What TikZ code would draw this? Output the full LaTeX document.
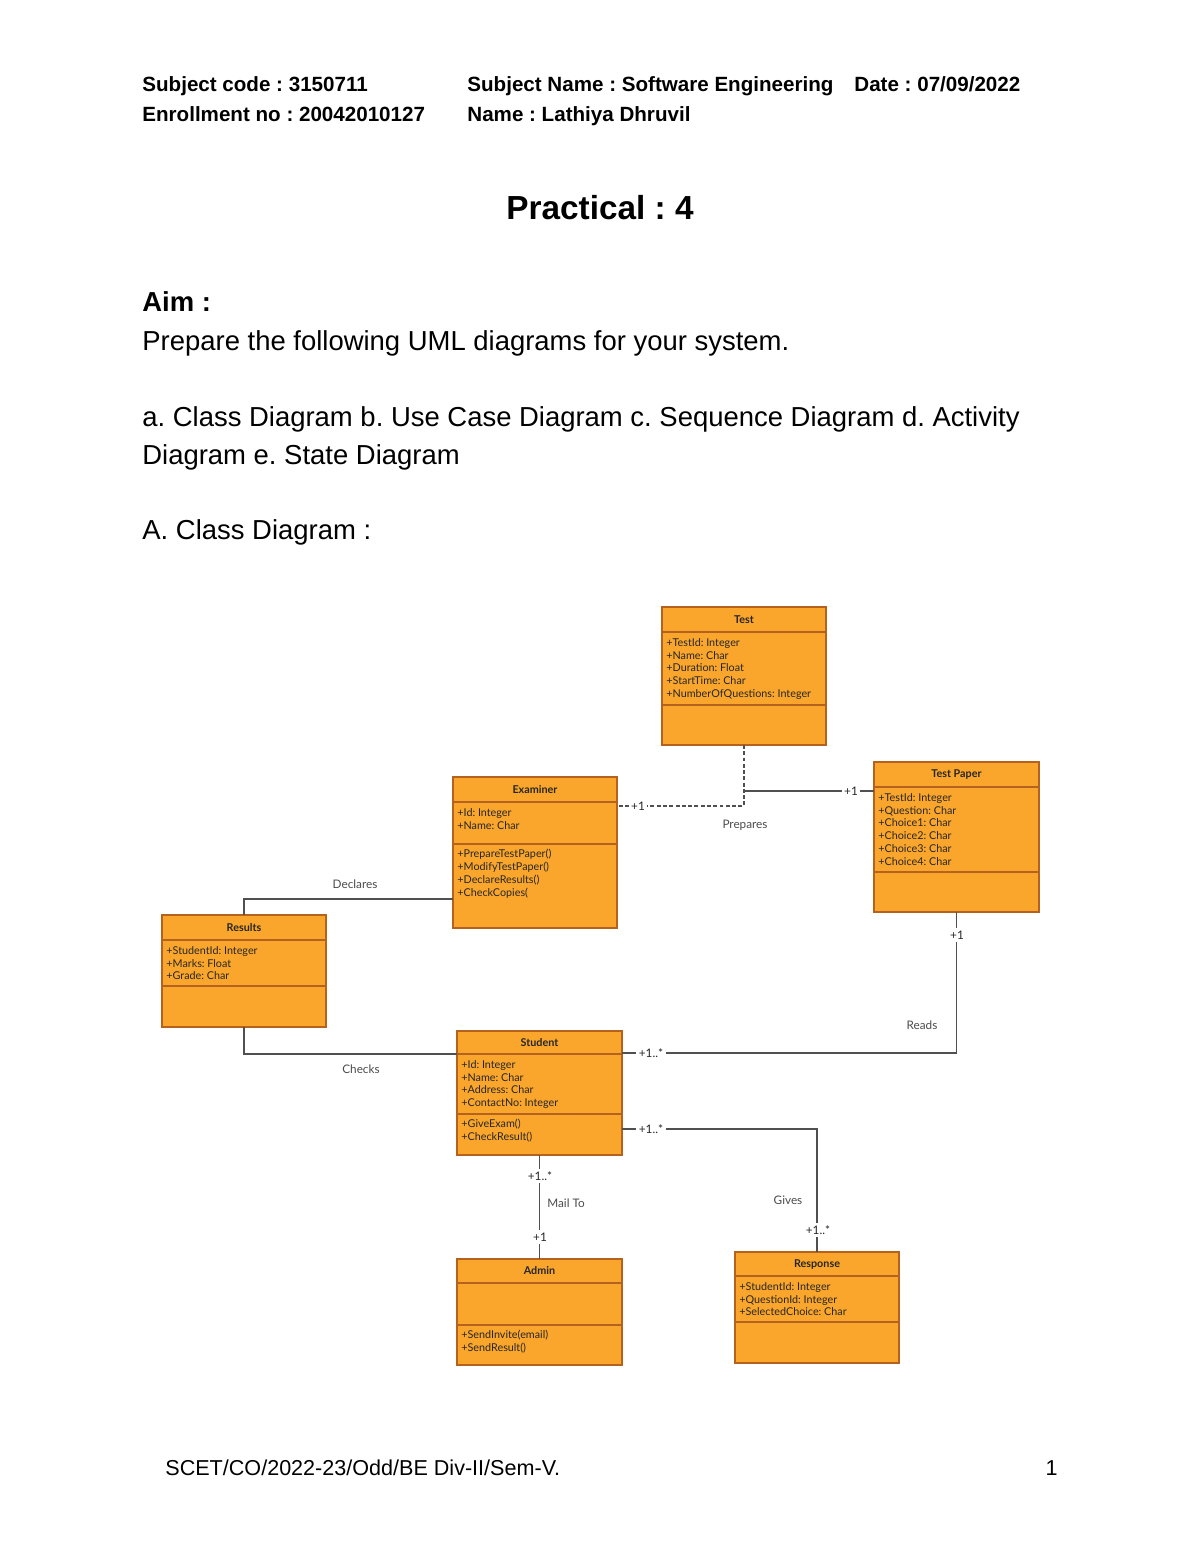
\documentclass[tikz,border=0pt]{standalone}
\usepackage{fontspec}
\setmainfont{Liberation Sans}
\newfontfamily\diagfont{Lato}
\usepackage{xcolor}
\usepackage{tikz}
\usetikzlibrary{arrows.meta,positioning,calc,fit}
\frenchspacing

\definecolor{boxfill}{RGB}{250,166,44}
\definecolor{boxedge}{RGB}{180,98,30}
\definecolor{linegray}{RGB}{80,80,80}

\tikzset{
  umlbox/.style={draw=boxedge,fill=boxfill,line width=0.8pt,inner sep=0pt,outer sep=0pt},
  umlsep/.style={draw=boxedge,line width=0.8pt},
  umltitle/.style={font=\diagfont\fontsize{5.5}{6.5}\selectfont\bfseries,text=black!85,inner sep=0pt},
  umltext/.style={font=\diagfont\fontsize{5.5}{6.5}\selectfont,align=left,anchor=north west,inner sep=0pt,text=black!85},
  assoc/.style={draw=linegray,line width=0.7pt},
  mult/.style={font=\diagfont\fontsize{6}{7}\selectfont,fill=white,inner sep=1.3pt,text=black!85},
  rolename/.style={font=\diagfont\fontsize{6}{7}\selectfont,text=black!70},
  hdr/.style={font=\fontsize{10.5}{12}\selectfont\bfseries,anchor=base west,inner sep=0pt},
  body/.style={font=\fontsize{14}{17}\selectfont,anchor=base west,inner sep=0pt},
}

% name, x1, y1, x2, y2, first divider, second divider, title, attributes
\newcommand{\umlclass}[9]{%
  \node[umlbox,fit={(#2,#3) (#4,#5)}] (#1) {};
  \draw[umlsep] (#2,#6) -- (#4,#6);
  \draw[umlsep] (#2,#7) -- (#4,#7);
  \node[umltitle] (#1-title) at ({(#2+#4)/2},{(#3+#6)/2}) {#8};
  \node[umltext] (#1-attr) at ({#2+4},{#6+6}) {#9};
}

\begin{document}
\begin{tikzpicture}[x=0.51pt,y=-0.51pt,>=Latex]
  \useasboundingbox (0,0) rectangle (1200,1553);
  \fill[white] (0,0) rectangle (1200,1553);

  \node[hdr] (subjcode) at (142,91.5) {Subject code : 3150711};
  \node[hdr] (subjname) at (467,91.5) {Subject Name : Software Engineering};
  \node[hdr] (date) at (854,91.5) {Date : 07/09/2022};
  \node[hdr] (enroll) at (142,121.5) {Enrollment no : 20042010127};
  \node[hdr] (name) at (467,121.5) {Name : Lathiya Dhruvil};

  \node[font=\fontsize{17}{20}\selectfont\bfseries,anchor=base,inner sep=0pt] (practical) at (600,220) {Practical : 4};
  \node[body,font=\fontsize{14}{17}\selectfont\bfseries] (aim) at (142,311) {Aim :};
  \node[body] (aimtext) at (142,350) {Prepare the following UML diagrams for your system.};
  \node[body] (list1) at (142,426) {a. Class Diagram b. Use Case Diagram c. Sequence Diagram d. Activity};
  \node[body] (list2) at (142,464) {Diagram e. State Diagram};
  \node[body] (classhead) at (142,539) {A. Class Diagram :};

  \umlclass{test}{662}{607}{826}{745}{632}{705}{Test}
    {+TestId: Integer\\+Name: Char\\+Duration: Float\\+StartTime: Char\\+NumberOfQuestions: Integer}
  \umlclass{examiner}{453}{777}{617}{928}{802}{844}{Examiner}
    {+Id: Integer\\+Name: Char}
  \node[umltext] (examiner-ops) at (457,849) {+PrepareTestPaper()\\+ModifyTestPaper()\\+DeclareResults()\\+CheckCopies(};
  \umlclass{testpaper}{874}{762}{1039}{912}{787}{872}{Test Paper}
    {+TestId: Integer\\+Question: Char\\+Choice1: Char\\+Choice2: Char\\+Choice3: Char\\+Choice4: Char}
  \umlclass{results}{162}{915}{326}{1027}{940}{986}{Results}
    {+StudentId: Integer\\+Marks: Float\\+Grade: Char}
  \umlclass{student}{457}{1031}{622}{1155}{1054}{1114}{Student}
    {+Id: Integer\\+Name: Char\\+Address: Char\\+ContactNo: Integer}
  \node[umltext] (student-ops) at (461,1119) {+GiveExam()\\+CheckResult()};
  \umlclass{admin}{457}{1259}{622}{1365}{1283}{1325}{Admin}{}
  \node[umltext] (admin-ops) at (461,1330) {+SendInvite(email)\\+SendResult()};
  \umlclass{response}{735}{1252}{899}{1363}{1276}{1322}{Response}
    {+StudentId: Integer\\+QuestionId: Integer\\+SelectedChoice: Char}

  \draw[assoc,dash pattern=on 2pt off 1.2pt] (test.south) |- ($(examiner.north east)+(0,29)$);
  \draw[assoc] ($(test.south)+(0,46)$) -- ($(testpaper.north west)+(0,29)$);
  \draw[assoc] ($(examiner.south west)+(0,-29)$) -| (results.north);
  \draw[assoc] (results.south) |- ($(student.north west)+(0,23)$);
  \draw[assoc] ($(student.north east)+(0,22)$) -| (testpaper.south);
  \draw[assoc] ($(student.south east)+(0,-26)$) -| (response.north);
  \draw[assoc] (student.south) -- (admin.north);

  \node[mult] (m-exam) at (638,806) {+1};
  \node[mult] (m-paper) at (851,791) {+1};
  \node[mult] (m-stu-read) at (651,1053) {+1..*};
  \node[mult] (m-paper-read) at (957,935) {+1};
  \node[mult] (m-stu-give) at (651,1129) {+1..*};
  \node[mult] (m-resp) at (818,1230) {+1..*};
  \node[mult] (m-stu-mail) at (540,1176) {+1..*};
  \node[mult] (m-admin) at (540,1237) {+1};

  \node[rolename] (prepares) at (745,825) {Prepares};
  \node[rolename] (declares) at (355,884) {Declares};
  \node[rolename] (checks) at (361,1069) {Checks};
  \node[rolename] (reads) at (922,1025) {Reads};
  \node[rolename] (gives) at (788,1200) {Gives};
  \node[rolename] (mailto) at (566,1203) {Mail To};

  \node[font=\fontsize{11}{13}\selectfont,anchor=base west,inner sep=0pt] (footer) at (165,1475) {SCET/CO/2022-23/Odd/BE Div-II/Sem-V.};
  \node[font=\fontsize{11}{13}\selectfont,anchor=base east,inner sep=0pt] (pageno) at (1058,1475) {1};
\end{tikzpicture}
\end{document}
